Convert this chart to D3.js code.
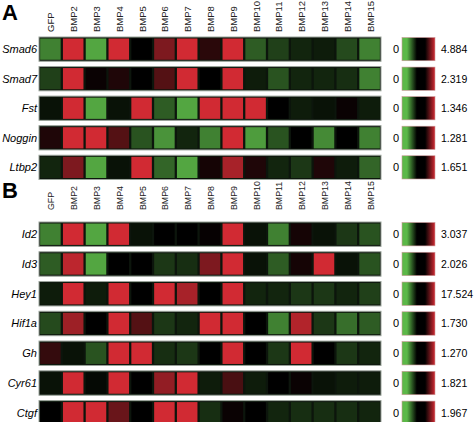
<!DOCTYPE html>
<html>
<head>
<meta charset="utf-8">
<script src="https://cdn.jsdelivr.net/npm/d3@7"></script>
<style>
body { margin: 0; background: #fff; }
text { font-family: Arial, "Liberation Sans", sans-serif; }
</style>
</head>
<body>
<svg id="chart" width="474" height="422"></svg>
<script>
var columns = ["GFP", "BMP2", "BMP3", "BMP4", "BMP5", "BMP6", "BMP7", "BMP8", "BMP9", "BMP10", "BMP11", "BMP12", "BMP13", "BMP14", "BMP15"];

// relative expression score: -1 bright green, 0 black, 1 red
var genesA = ["Smad6", "Smad7", "Fst", "Noggin", "Ltbp2"];
var maxA = ["4.884", "2.319", "1.346", "1.281", "1.651"];
var valuesA = [
    [-0.7, 1, -0.9, 1, 0, 0.6, 1, 0.2, 1, -0.5, -0.35, -0.2, -0.15, -0.4, -0.7],
    [-0.35, 1, 0.05, 0.15, 0, 0.4, 1, 0, 1, -0.15, -0.45, -0.2, -0.2, -0.25, -0.7],
    [-0.1, 1, -0.9, -0.1, 1, -0.5, -0.9, 1, 1, 1, 0, -0.15, -0.1, 0.05, -0.15],
    [0.15, 1, 1, 0.4, -0.45, -0.8, -0.2, -0.7, 1, -0.85, -0.45, 0, -0.75, 0, -0.7],
    [-0.2, 0.6, -0.9, -0.1, 1, -0.55, -0.9, 0.1, 0.8, 0.15, -0.2, -0.3, 0.15, -0.15, -0.55]
];

var genesB = ["Id2", "Id3", "Hey1", "Hif1a", "Gh", "Cyr61", "Ctgf"];
var maxB = ["3.037", "2.026", "17.524", "1.730", "1.270", "1.821", "1.967"];
var valuesB = [
    [-0.7, 1, -0.9, 1, -0.1, 0, 0, 0.03, 1, -0.1, -0.7, 0.1, -0.1, -0.3, -0.45],
    [-0.5, 0.9, -0.9, 0, 0, -0.3, -0.25, 0.6, 1, -0.1, -0.5, 0.1, 1, -0.1, -0.45],
    [-0.15, 1, -0.15, 1, 0, 1, 0.8, 0, 1, -0.2, -0.2, -0.3, -0.3, -0.2, -0.35],
    [-0.4, 0.75, 0, 1, 0.4, -0.3, -0.2, 1, 1, 0, -0.7, 0.85, -0.3, -0.6, -0.5],
    [0.25, -0.1, -0.45, 1, 1, -0.25, -0.3, 0, 1, 0, -0.3, 1, 0, -0.3, -0.2],
    [-0.1, 1, -0.05, 1, 0, 0.7, 1, -0.15, 0.35, -0.15, 0, 0.05, -0.1, -0.15, -0.15],
    [0, 1, 1, 0.5, 0, 1, 1, -0.25, 0.05, 0, -0.2, -0.25, -0.25, -0.25, -0.2]
];

var svg = d3.select("#chart");
var color = d3.scaleLinear().domain([-1, 0, 1]).range(["#5cb848", "#000000", "#d12a33"]);
var x = d3.scaleBand().domain(columns).range([39, 381]).paddingInner(0.1).paddingOuter(0.05);

var defs = svg.append("defs");
var grad = defs.append("linearGradient").attr("id", "leg");
grad.append("stop").attr("offset", "0%").attr("stop-color", "#5cb848");
grad.append("stop").attr("offset", "15%").attr("stop-color", "#5cb848");
grad.append("stop").attr("offset", "45%").attr("stop-color", "#000");
grad.append("stop").attr("offset", "70%").attr("stop-color", "#000");
grad.append("stop").attr("offset", "100%").attr("stop-color", "#d12a33");

function panel(letter, genes, values, maxes, top, pitch, labelY, labelSize) {
    svg.append("text").attr("x", 2).attr("y", labelY - 12).text(letter)
        .attr("font-size", 22).attr("font-weight", "bold");

    svg.selectAll(null).data(columns).enter().append("text")
        .attr("transform", function(d) { return "translate(" + (x(d) + x.bandwidth() / 2 + 4) + "," + labelY + ") rotate(-90)"; })
        .attr("font-size", labelSize).attr("fill", "#222").text(function(d) { return d; });

    var y = d3.scaleBand().domain(genes).range([top, top + genes.length * pitch]).paddingInner(0.18);

    var row = svg.selectAll(null).data(genes).enter().append("g")
        .attr("transform", function(d) { return "translate(0," + y(d) + ")"; });

    row.append("rect").attr("x", 39).attr("width", 342).attr("height", y.bandwidth())
        .attr("fill", "#0c150c").attr("stroke", "#9aa39a").attr("stroke-width", 1);

    row.selectAll("rect.cell").data(function(d, i) { return values[i]; }).enter().append("rect")
        .attr("class", "cell")
        .attr("x", function(d, j) { return x(columns[j]); })
        .attr("y", 1.5).attr("width", x.bandwidth()).attr("height", y.bandwidth() - 3)
        .attr("fill", function(d) { return color(d); });

    row.append("text").attr("x", 37).attr("y", y.bandwidth() / 2 + 4).attr("text-anchor", "end")
        .attr("font-size", 11).attr("font-style", "italic").text(function(d) { return d; });

    row.append("text").attr("x", 399).attr("y", y.bandwidth() / 2 + 4).attr("text-anchor", "end")
        .attr("font-size", 11).text("0");
    row.append("rect").attr("x", 402).attr("y", 0.5).attr("width", 33).attr("height", y.bandwidth() - 1)
        .attr("fill", "url(#leg)").attr("stroke", "#c99").attr("stroke-width", 0.6);
    row.append("text").attr("x", 441).attr("y", y.bandwidth() / 2 + 4)
        .attr("font-size", 10.5).text(function(d, i) { return maxes[i]; });
}

panel("A", genesA, valuesA, maxA, 37, 28.5, 32, 9.5);
panel("B", genesB, valuesB, maxB, 222, 29, 210, 8.8);
</script>
</body>
</html>
